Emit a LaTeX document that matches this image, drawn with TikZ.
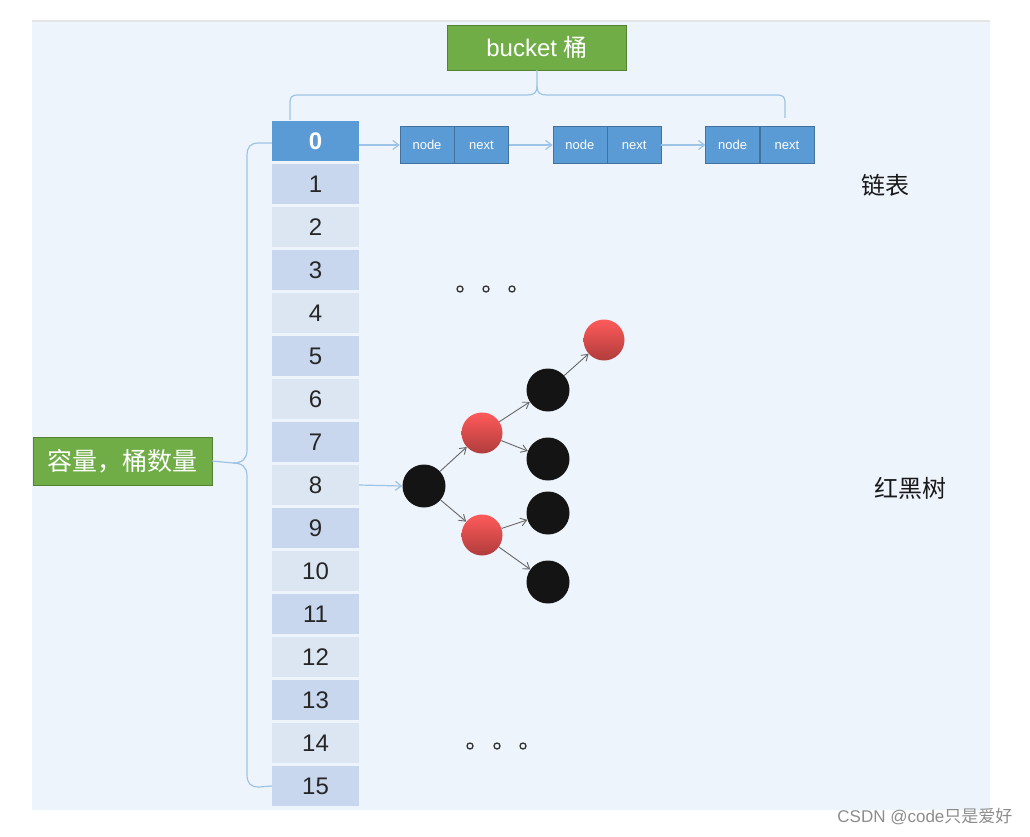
\documentclass[tikz,border=0pt]{standalone}
\usepackage{fontspec}
\setmainfont{Liberation Sans}
\newfontfamily\cjk{Noto Sans CJK SC}
\usepackage{xcolor}
\definecolor{hmblue}{HTML}{5B9BD5}
\definecolor{hmbluedark}{HTML}{41719C}
\definecolor{hmcellA}{HTML}{C8D7ED}
\definecolor{hmcellB}{HTML}{DCE6F3}
\definecolor{hmgreen}{HTML}{70AD47}
\definecolor{hmgreendark}{HTML}{548235}
\definecolor{hmline}{HTML}{9DC3E6}
\definecolor{hmpanel}{HTML}{EEF4FC}
\definecolor{hmred}{HTML}{FF5A5A}
\definecolor{hmreddark}{HTML}{B03C3C}
\usetikzlibrary{arrows.meta,positioning}

\begin{document}
\begin{tikzpicture}[x=1pt,y=-1pt,>={Straight Barb[length=6pt,width=9pt]},node distance=44pt]
\tikzset{
 cell/.style={minimum width=87pt,minimum height=40pt,inner sep=0pt,font=\fontsize{24}{28}\selectfont,text=black!85},
 lnode/.style={draw=hmbluedark,fill=hmblue,minimum width=54pt,minimum height=37pt,inner sep=0pt,text=white,font=\fontsize{13}{15}\selectfont},
 greenbox/.style={draw=hmgreendark,fill=hmgreen,minimum height=45pt,inner sep=0pt,text=white,font=\fontsize{24}{28}\selectfont},
 blacknode/.style={circle,fill=black!92,minimum size=43pt,inner sep=0pt},
 rednode/.style={circle,top color=hmred,bottom color=hmreddark,minimum size=41pt,inner sep=0pt},
 arrow/.style={->,draw=hmline,line width=1.2pt},
 treearrow/.style={-{Straight Barb[length=6pt,width=8pt]},draw=black!60,line width=0.9pt},
 brace/.style={draw=hmline,line width=1.2pt},
 label/.style={font=\fontsize{24}{28}\selectfont\cjk,text=black!90},
 dotc/.style={draw=black!80,line width=1.3pt}
}
\useasboundingbox (0,0) rectangle (1030,837);
% background panel
\fill[hmpanel] (32,21) rectangle (990,810);
\draw[black!10,line width=2pt] (32,21) -- (990,21);

% array of buckets
\node[cell,fill=hmblue,text=white,font=\fontsize{24}{28}\selectfont\bfseries] (c0) at (315.5,141) {0};
\foreach \i in {1,3,...,15}
 \node[cell,fill=hmcellA] (c\i) at (315.5,141+43*\i) {\i};
\foreach \i in {2,4,...,14}
 \node[cell,fill=hmcellB] (c\i) at (315.5,141+43*\i) {\i};

% linked list
\node[lnode] (n1) at (427,145) {node};
\node[lnode,right=0pt of n1] (x1) {next};
\node[lnode,right=of x1] (n2) {node};
\node[lnode,right=0pt of n2] (x2) {next};
\node[lnode,right=of x2] (n3) {node};
\node[lnode,right=0pt of n3] (x3) {next};
\draw[arrow] (c0.east |- n1) -- (n1.west);
\draw[arrow] (x1.east) -- (n2.west);
\draw[arrow] (x2.east) -- (n3.west);

% labels
\node[greenbox,minimum width=179pt] (bucket) at (537,47.5) {bucket {\cjk 桶}};
\node[greenbox,minimum width=179pt,minimum height=48pt,font=\fontsize{25}{28}\selectfont\cjk] (cap) at (122.5,461) {容量，桶数量};
\node[label] (list) at (885,185) {链表};
\node[label] (rbt) at (910,488) {红黑树};

% braces
\draw[brace] (bucket.south) -- (537,86) .. controls (537,93) and (534,95) .. (527,95) -- (299,95)
 .. controls (291,95) and (290,97) .. (290,104) -- (290,120);
\draw[brace] (537,86) .. controls (537,93) and (540,95) .. (547,95) -- (776,95)
 .. controls (784,95) and (785,97) .. (785,104) -- (785,118);
\draw[brace] (cap.east) -- (233,463) .. controls (242,463) and (247,459) .. (247,450) -- (247,156)
 .. controls (247,147) and (250,143) .. (259,143) -- (c0.west |- 0,143);
\draw[brace] (233,463) .. controls (242,463) and (247,467) .. (247,476) -- (247,774)
 .. controls (247,783) and (250,787) .. (259,787) -- (c15.west);

% red-black tree
\node[blacknode] (root) at (424,486) {};
\node[rednode] (r1) at (482,433) {};
\node[rednode] (r2) at (482,535) {};
\node[blacknode] (b1) at (548,390) {};
\node[blacknode] (b2) at (548,459) {};
\node[blacknode] (b3) at (548,513) {};
\node[blacknode] (b4) at (548,582) {};
\node[rednode] (r3) at (604,340) {};
\draw[arrow] (c8.east) -- (root.west);
\draw[treearrow] (root) -- (r1);
\draw[treearrow] (root) -- (r2);
\draw[treearrow] (r1) -- (b1);
\draw[treearrow] (r1) -- (b2);
\draw[treearrow] (r2) -- (b3);
\draw[treearrow] (r2) -- (b4);
\draw[treearrow] (b1) -- (r3);

% ellipsis
\foreach \x in {460,486,512}
 \draw[dotc] (\x,289) circle (3);
\foreach \x in {470,497,523}
 \draw[dotc] (\x,746) circle (3);

% watermark
\node[font=\fontsize{17}{20}\selectfont,text=black!45,anchor=east] (mark) at (1016,817) {CSDN @code{\cjk 只是爱好}};
\end{tikzpicture}
\end{document}
